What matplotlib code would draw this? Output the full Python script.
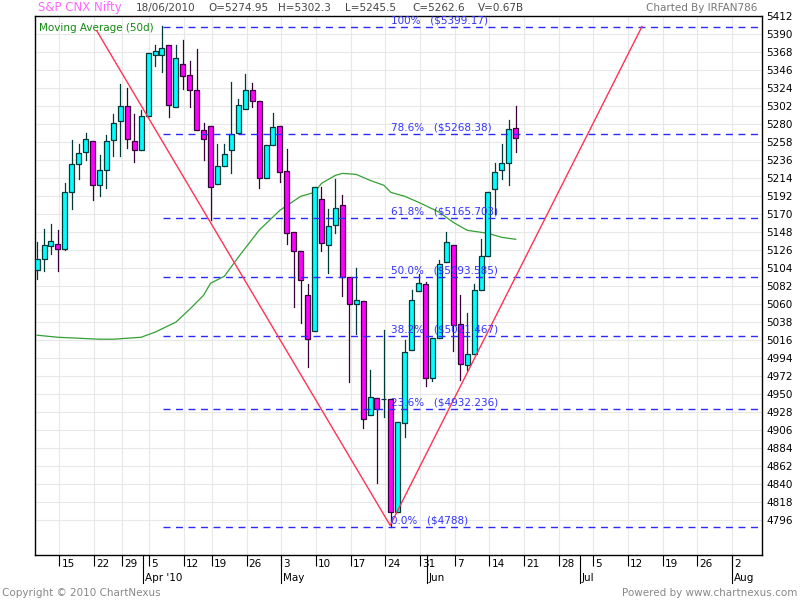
import matplotlib
matplotlib.use("Agg")
import matplotlib.pyplot as plt
from matplotlib.lines import Line2D
from matplotlib.patches import Rectangle
import matplotlib.transforms as mtrans

# ---- data (trading-day index 0 = 9 Mar 2010) ----
opens = [5101.5,5115.7,5131.2,5134.0,5127.9,5197.0,5231.6,5245.9,5259.3,5205.2,
         5224.3,5260.1,5283.3,5302.4,5259.3,5248.7,5289.8,5364.6,5364.6,5376.0,
         5300.8,5353.6,5340.2,5321.9,5273.1,5278.0,5207.2,5228.8,5247.9,5269.4,
         5298.7,5321.1,5307.7,5214.5,5254.0,5278.0,5222.7,5148.3,5124.7,5071.8,
         5027.1,5188.9,5132.8,5157.2,5180.8,5093.4,5060.0,5064.1,4924.6,4946.1,
         4943.7,4944.9,4806.6,4914.4,5004.7,5075.9,5085.2,4970.5,5019.3,5111.7,
         5132.8,5036.4,4985.6,4999.8,5077.9,5119.0,5201.1,5224.3,5232.8,5274.95]
highs = [5136.0,5152.3,5157.6,5150.3,5208.4,5260.0,5255.2,5269.4,5259.3,5242.6,
         5267.0,5292.6,5329.2,5324.3,5292.6,5296.7,5367.0,5376.8,5399.2,5376.0,
         5376.8,5382.1,5356.5,5371.9,5281.6,5278.0,5256.0,5256.0,5331.3,5310.1,
         5341.4,5330.0,5307.7,5254.0,5293.4,5278.0,5249.9,5148.3,5124.7,5085.2,
         5203.2,5203.2,5176.7,5212.5,5193.0,5093.4,5104.7,5064.1,4980.3,4946.1,
         5029.1,4944.9,4916.4,5016.1,5077.1,5097.4,5087.3,5019.3,5113.7,5148.3,
         5132.8,5071.0,5049.8,5085.2,5139.3,5197.1,5232.4,5255.2,5285.3,5302.3]
lows = [5091.3,5100.7,5121.8,5100.7,5125.9,5176.7,5213.3,5235.7,5186.9,5192.2,
        5202.3,5240.6,5240.6,5250.7,5233.7,5248.7,5288.6,5350.8,5343.5,5288.6,
        5300.8,5323.1,5300.8,5273.1,5236.5,5162.5,5207.2,5228.8,5220.2,5269.4,
        5298.7,5300.8,5202.3,5214.5,5254.0,5209.3,5134.0,5056.7,5037.2,4983.5,
        5027.1,5125.1,5098.2,5147.0,5070.2,4965.3,5024.2,4908.3,4924.6,4842.0,
        4922.5,4788.0,4806.6,4897.3,5004.7,5075.9,4960.4,4966.5,5019.3,5111.7,
        5003.1,4967.3,4979.5,4999.8,5077.9,5119.0,5170.6,5213.3,5205.2,5245.5]
closes = [5115.7,5132.8,5136.9,5127.9,5197.0,5231.6,5245.0,5262.1,5205.2,5224.3,
          5259.3,5281.6,5302.4,5262.1,5248.7,5289.8,5367.0,5368.7,5373.1,5303.6,
          5361.0,5338.6,5321.9,5273.1,5262.1,5203.2,5228.8,5243.8,5268.2,5303.6,
          5321.9,5307.7,5214.5,5254.0,5276.4,5221.5,5147.4,5124.7,5090.1,5018.1,
          5203.2,5135.2,5155.6,5177.5,5093.4,5060.0,5065.7,4919.7,4946.9,4931.9,
          4943.7,4806.6,4916.4,5001.9,5065.7,5086.0,4970.5,5019.3,5109.6,5136.1,
          5034.4,4986.8,4999.8,5077.9,5119.0,5197.1,5221.5,5232.8,5274.3,5262.6]

ma_idx = [0,3,9,11,15,17,20,22,24,25,27,29,32,35,38,40,41,43,44,46,48,50,51,53,55,58,60,62,65,67,69]
ma_val = [5022.2,5019.7,5017.3,5017.3,5019.7,5025.9,5038.1,5053.9,5071.0,5085.6,5094.2,
          5117.4,5150.3,5174.7,5191.8,5196.6,5207.6,5217.4,5219.8,5218.6,5211.3,5205.2,
          5196.6,5191.8,5184.5,5172.3,5160.0,5150.3,5146.6,5141.7,5139.3]

fib_pct = ["100%", "78.6%", "61.8%", "50.0%", "38.2%", "23.6%", "0.0%"]
fib_val = [5399.17, 5268.38, 5165.703, 5093.585, 5021.467, 4932.236, 4788.0]
fib_txt = ["$5399.17", "$5268.38", "$5165.703", "$5093.585", "$5021.467", "$4932.236", "$4788"]
fib_start = 18.2

v_idx = [8.6, 50.9, 87.2]
v_val = [5394.0, 4790.0, 5399.17]

week_idx = [4,9,13,17,22,26,31,36,41,46,51,56,61,66,71,76,81,86,91,96,101]
week_lbl = ["15","22","29","5","12","19","26","3","10","17","24","31","7","14","21","28","5","12","19","26","2"]
month_idx = [16,57,79,101]
month_lbl = ["Apr '10","Jun","Jul","Aug"]
may_idx, may_lbl = 36, "May"

yticks = list(range(4796, 5413, 22))

# ---- figure ----
fig = plt.figure(figsize=(8, 6), dpi=100)
ax = fig.add_axes([35/800, 1-555/600, 727/800, 539/600])
ax.set_xlim(-0.3, 104.5)
ax.set_ylim(4753.8, 5411.4)

ax.yaxis.tick_right()
ax.set_yticks(yticks)
ax.set_yticklabels([str(t) for t in yticks], fontsize=7.5)
ax.tick_params(axis='y', length=0, pad=3)
gx = [i - 0.8 for i in week_idx]
ax.set_xticks(gx)
ax.set_xticklabels([])
ax.tick_params(axis='x', length=8, width=0.8, direction='out')
ax.grid(True, color='#e8e8e8', lw=0.8)
ax.set_axisbelow(True)
for s in ax.spines.values():
    s.set_color('black'); s.set_linewidth(1)

trans = mtrans.blended_transform_factory(ax.transData, ax.transAxes)
for x, l in zip(gx, week_lbl):
    ax.text(x + 0.3, -0.008, l, transform=trans, fontsize=7.5, ha='left', va='top')
for i, l in list(zip(month_idx, month_lbl)) + [(may_idx, may_lbl)]:
    x = i - 0.8
    ax.add_line(Line2D([x, x], [0, -0.052], transform=trans, color='black', lw=0.8, clip_on=False))
    ax.text(x + 0.3, -0.033, l, transform=trans, fontsize=7.5, ha='left', va='top')

# moving average
ax.plot(ma_idx, ma_val, color='#33a033', lw=0.9, zorder=2)

# candles
w = 0.72
for i, (o, h, l, c) in enumerate(zip(opens, highs, lows, closes)):
    up = c >= o
    body = '#00ffff' if up else '#ff00ff'
    edge = '#003838' if up else '#380038'
    ax.plot([i, i], [l, h], color=edge, lw=0.9, zorder=3)
    ax.add_patch(Rectangle((i - w/2, min(o, c)), w, max(abs(c - o), 1.0),
                           facecolor=body, edgecolor=edge, lw=0.9, zorder=4))

# fibonacci lines
for p, v, t in zip(fib_pct, fib_val, fib_txt):
    ax.plot([fib_start, 104.5], [v, v], color='#2a2aff', lw=1, ls=(0, (5, 4)), zorder=5)
    ax.text(51.0, v + 1.5, f"{p}   ({t})", color='#3333ff', fontsize=7.5,
            ha='left', va='bottom', zorder=6)

# V lines
ax.plot(v_idx, v_val, color='#ff3355', lw=1, zorder=5)

ax.text(0.3, 5404, "Moving Average (50d)", color='#118811', fontsize=7.5, va='top', ha='left')

# header / footer
fig.text(38/800, 1-8/600, "S&P CNX Nifty", color='#ff66ff', fontsize=8.5, va='center')
for x, s in [(136, "18/06/2010"), (208, "O=5274.95"), (278, "H=5302.3"),
             (345, "L=5245.5"), (412, "C=5262.6"), (478, "V=0.67B")]:
    fig.text(x/800, 1-8/600, s, color='#444444', fontsize=7.5, va='center')
fig.text(757/800, 1-8/600, "Charted By IRFAN786", color='#777777', fontsize=7.5, va='center', ha='right')
fig.text(2/800, 1-593/600, "Copyright © 2010 ChartNexus", color='#888888', fontsize=7.5, va='center')
fig.text(797/800, 1-593/600, "Powered by www.chartnexus.com", color='#888888', fontsize=7.5, va='center', ha='right')

fig.savefig("out.png", dpi=100)
